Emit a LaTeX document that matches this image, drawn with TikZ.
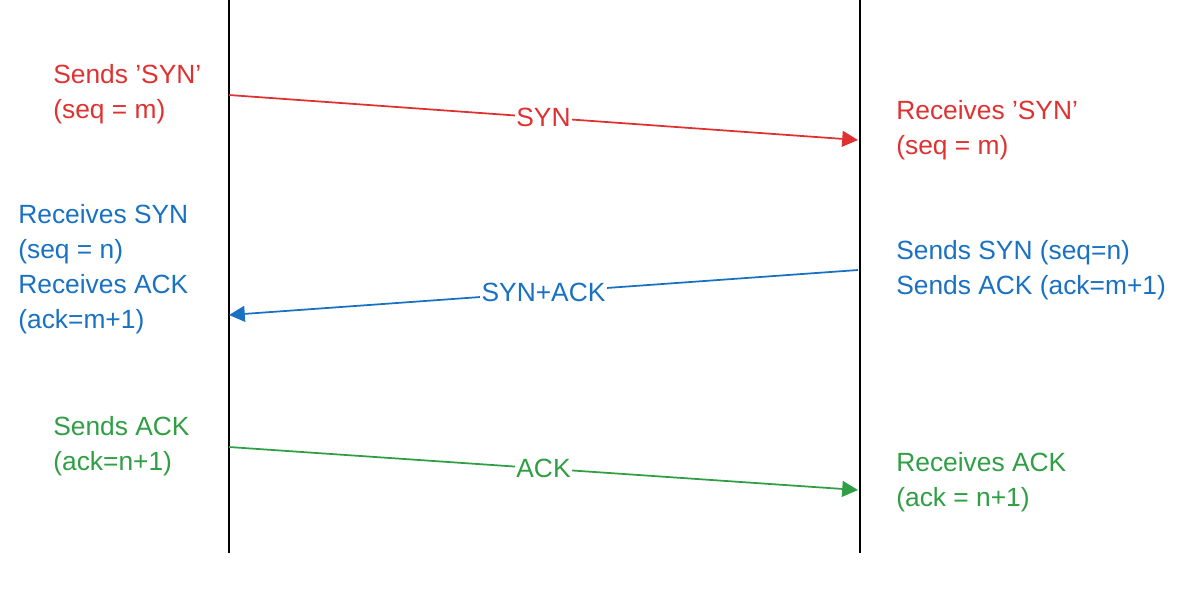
\documentclass[tikz,border=0pt]{standalone}
\usepackage{fontspec}
\setmainfont{Liberation Sans}
\usetikzlibrary{arrows.meta}
\definecolor{cred}{HTML}{E03131}
\definecolor{cblue}{HTML}{1971C2}
\definecolor{cgreen}{HTML}{2F9E44}
\begin{document}
\begin{tikzpicture}[x=0.02cm,y=-0.02cm,
  life/.style={draw=black,line width=0.8pt},
  msg/.style={line width=1pt,-{Triangle[length=9pt,width=9pt]}},
  lbl/.style={fill=white,inner sep=1pt,font=\fontsize{15}{18}\selectfont},
  txt/.style={anchor=north west,align=left,inner sep=0pt,font=\fontsize{15}{20}\selectfont}]
\useasboundingbox (0,0) rectangle (1200,600);
\coordinate (lt) at (229,0); \coordinate (lb) at (229,553);
\coordinate (rt) at (860,0); \coordinate (rb) at (860,553);
\draw[life] (lt) -- (lb);
\draw[life] (rt) -- (rb);
\coordinate (a1) at (229,95); \coordinate (b1) at (858,140);
\coordinate (a2) at (858,270); \coordinate (b2) at (229,315);
\coordinate (a3) at (229,447); \coordinate (b3) at (858,490);
\draw[msg,cred] (a1) -- node[lbl,text=cred] (l1) {SYN} (b1);
\draw[msg,cblue] (a2) -- node[lbl,text=cblue] (l2) {SYN+ACK} (b2);
\draw[msg,cgreen] (a3) -- node[lbl,text=cgreen] (l3) {ACK} (b3);
\node[txt,text=cred] (t1) at (53,64) {Sends 'SYN'\\(seq = m)};
\node[txt,text=cred] (t2) at (896,100) {Receives 'SYN'\\(seq = m)};
\node[txt,text=cblue] (t3) at (18,204) {Receives SYN\\(seq = n)\\Receives ACK\\(ack=m+1)};
\node[txt,text=cblue] (t4) at (896,240) {Sends SYN (seq=n)\\Sends ACK (ack=m+1)};
\node[txt,text=cgreen] (t5) at (53,416) {Sends ACK\\(ack=n+1)};
\node[txt,text=cgreen] (t6) at (896,452) {Receives ACK\\(ack = n+1)};
\end{tikzpicture}
\end{document}
